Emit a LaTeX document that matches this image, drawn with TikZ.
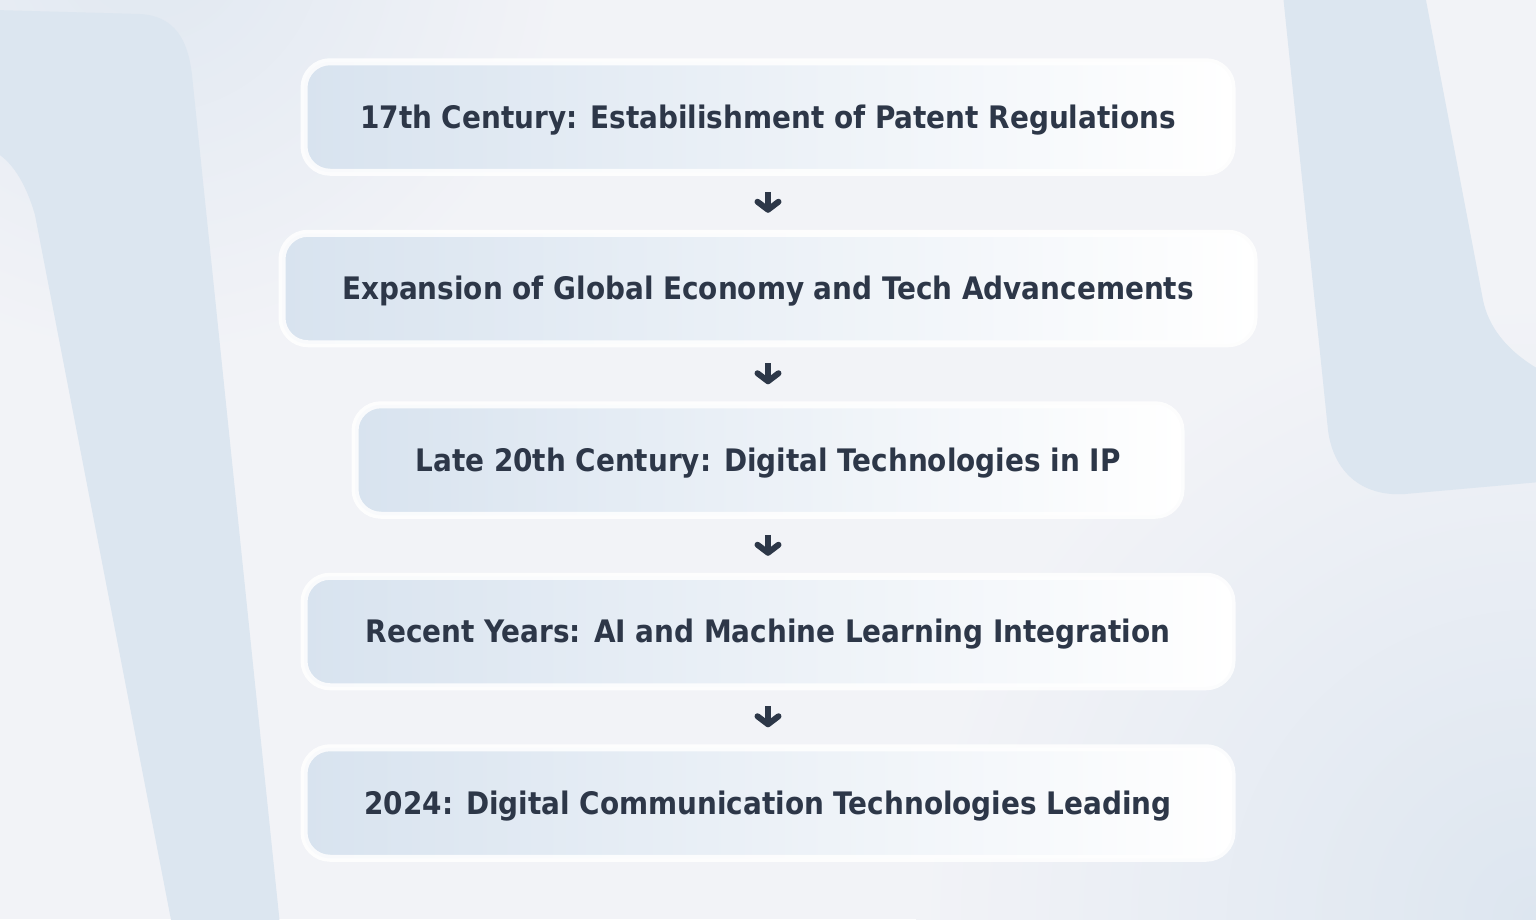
\documentclass[tikz,border=0pt]{standalone}
\usepackage{fontspec}
\setmainfont{DejaVu Sans Condensed}
\usetikzlibrary{positioning, arrows.meta}
\definecolor{pagebg}{HTML}{F2F3F7}
\definecolor{glowblue}{HTML}{DDE6F0}
\definecolor{bandblue}{HTML}{DCE6F0}
\definecolor{boxleft}{HTML}{D8E3EF}
\definecolor{inktext}{HTML}{2D3748}
\tikzset{
  stage/.style={draw=white, draw opacity=0.85, line width=7pt, rounded corners=26pt,
    left color=boxleft, right color=white, text=inktext,
    minimum height=110.5pt, inner sep=0pt, text height=22.5pt, text depth=0pt,
    font=\fontsize{31}{36}\selectfont\bfseries},
  flowarrow/.style={draw=inktext, line width=6pt,
    -{Straight Barb[length=8pt, width=21pt, round]}}
}
\begin{document}
\begin{tikzpicture}[x=1pt, y=-1pt]
  \useasboundingbox (0,0) rectangle (1536,919);
  % page background with soft corner glows
  \begin{scope}
    \clip (0,0) rectangle (1536,919);
    \fill[pagebg] (0,0) rectangle (1536,919);
    \shade[inner color=glowblue, outer color=pagebg] (1536,919) circle (620);
    \shade[inner color=glowblue!85!pagebg, outer color=pagebg] (150,-60) circle (420);
  \end{scope}
  % background bands
  \fill[bandblue] (-5,10) -- (140,14) .. controls (175,16) and (188,40) .. (192,75)
     -- (280,925) -- (172,925) -- (35,215) .. controls (25,180) and (10,160) .. (-5,152) -- cycle;
  \fill[bandblue] (1283,-5) -- (1328,430) .. controls (1333,470) and (1360,497) .. (1405,494)
     -- (1540,482) -- (1540,370) .. controls (1505,350) and (1488,325) .. (1483,300)
     -- (1425,-5) -- cycle;

  % timeline stages
  \node[stage, minimum width=928pt] (patent) at (768,117)
    {17th Century: Estabilishment of Patent Regulations};
  \node[stage, minimum width=972pt, below=54pt of patent] (economy)
    {Expansion of Global Economy and Tech Advancements};
  \node[stage, minimum width=826pt, below=54pt of economy] (digital)
    {Late 20th Century: Digital Technologies in IP};
  \node[stage, minimum width=928pt, below=54pt of digital] (ai)
    {Recent Years: AI and Machine Learning Integration};
  \node[stage, minimum width=928pt, below=54pt of ai] (comms)
    {2024: Digital Communication Technologies Leading};

  % arrows between stages
  \draw[flowarrow] ([yshift=-16pt]patent.south) -- ([yshift=17pt]economy.north);
  \draw[flowarrow] ([yshift=-16pt]economy.south) -- ([yshift=17pt]digital.north);
  \draw[flowarrow] ([yshift=-16pt]digital.south) -- ([yshift=17pt]ai.north);
  \draw[flowarrow] ([yshift=-16pt]ai.south) -- ([yshift=17pt]comms.north);
\end{tikzpicture}
\end{document}
